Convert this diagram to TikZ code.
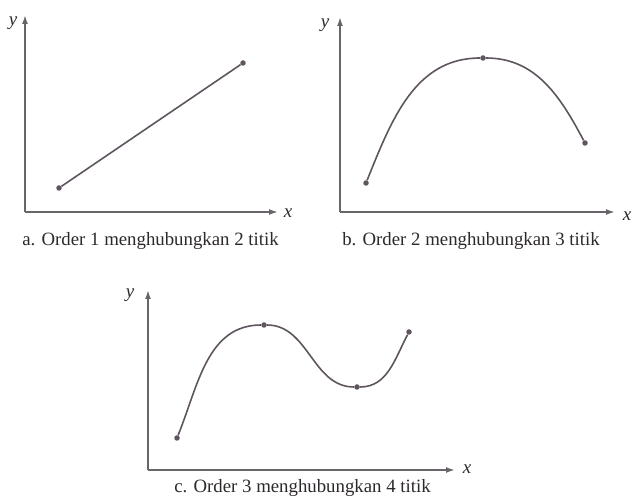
\documentclass[tikz,border=0pt]{standalone}
\usepackage{fontspec}
\setmainfont{Liberation Serif}
\usetikzlibrary{arrows.meta}
\definecolor{axisgray}{RGB}{105,100,105}
\definecolor{curvegray}{RGB}{95,85,95}
\definecolor{inkgray}{RGB}{45,40,45}
\begin{document}
\begin{tikzpicture}[x=1pt, y=1pt, >={Latex[length=9pt,width=6pt]},
		titik/.style={circle, fill=curvegray, inner sep=0pt, minimum size=5.5pt},
		sumbu/.style={->, axisgray, line width=1.7pt},
		kurva/.style={curvegray, line width=1.6pt},
		lbl/.style={inkgray, font=\fontsize{19}{22}\selectfont\itshape},
		keterangan/.style={inkgray, anchor=base, font=\fontsize{18.8}{22}\selectfont}]
	\useasboundingbox (0,0) rectangle (643,503);
	% a
	\coordinate (oa) at (25,291);
	\coordinate (xa) at (278,291);
	\coordinate (ya) at (25,488);
	\node[titik] (a1) at (59,315) {};
	\node[titik] (a2) at (243,440) {};
	\node[lbl] (ya-l) at (13,480) {y};
	\node[lbl] (xa-l) at (288,290) {x};
	\node[keterangan] (ket-a) at (150.5,257) {a. Order 1 menghubungkan 2 titik};
	% b
	\coordinate (ob) at (340,291);
	\coordinate (xb) at (615,291);
	\coordinate (yb) at (340,486);
	\node[titik] (b1) at (366,320) {};
	\node[titik] (b2) at (483,445) {};
	\node[titik] (b3) at (585,360) {};
	\node[lbl] (yb-l) at (325,478) {y};
	\node[lbl] (xb-l) at (627,287) {x};
	\node[keterangan] (ket-b) at (471,257) {b. Order 2 menghubungkan 3 titik};
	% c
	\coordinate (oc) at (148,33);
	\coordinate (xc) at (455,33);
	\coordinate (yc) at (148,213);
	\node[titik] (c1) at (177,65) {};
	\node[titik] (c2) at (264,178) {};
	\node[titik] (c3) at (357,116) {};
	\node[titik] (c4) at (409,171) {};
	\node[lbl] (yc-l) at (130,208) {y};
	\node[lbl] (xc-l) at (467,34) {x};
	\node[keterangan] (ket-c) at (302.5,10) {c. Order 3 menghubungkan 4 titik};

	\path[sumbu]
	(oa) edge (xa) edge (ya)
	(ob) edge (xb) edge (yb)
	(oc) edge (xc) edge (yc);
	\path[kurva]
	(a1) edge (a2)
	(b1) edge[out=68, in=180] (b2)
	(b2) edge[out=0, in=118] (b3)
	(c1) edge[out=68, in=180] (c2)
	(c2) edge[out=0, in=180] (c3)
	(c3) edge[out=0, in=-118] (c4);
\end{tikzpicture}
\end{document}
